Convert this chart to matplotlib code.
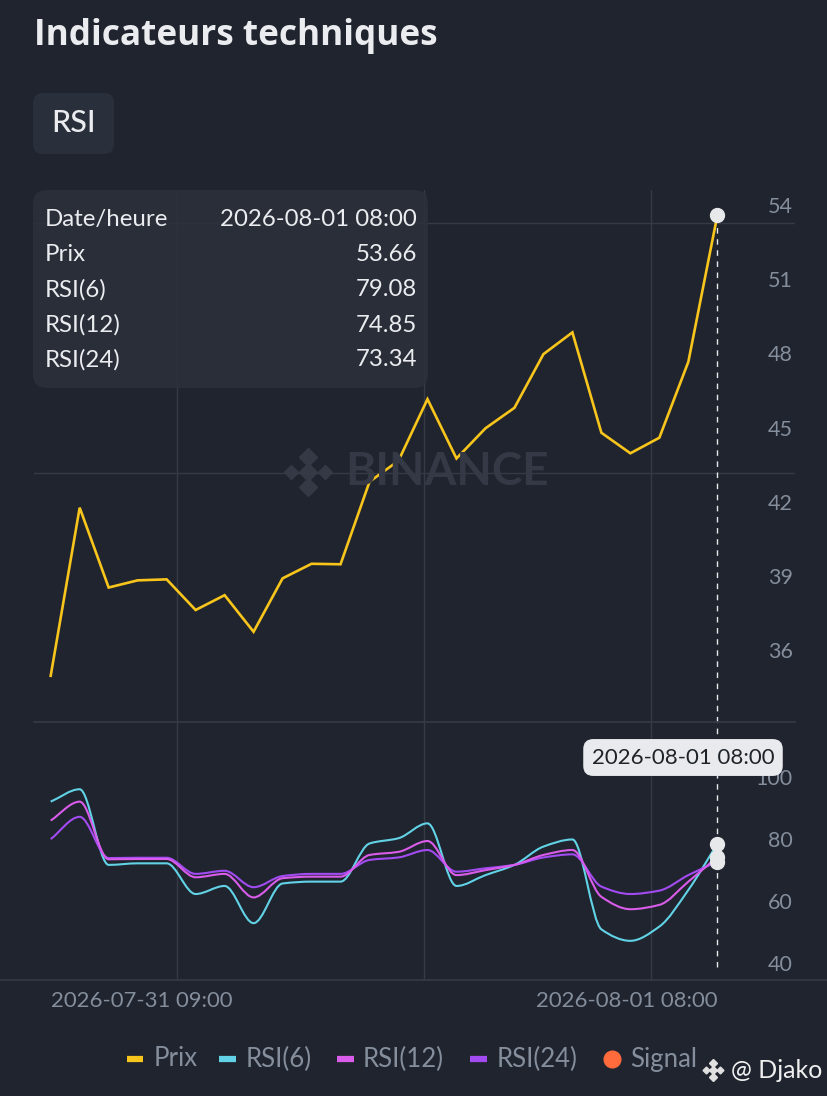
import numpy as np
import matplotlib.pyplot as plt
from matplotlib.path import Path
from matplotlib.patches import PathPatch, FancyBboxPatch
from matplotlib.lines import Line2D

plt.rcParams['font.family'] = ['Lato', 'DejaVu Sans']

# ---- data (hourly, 2026-07-31 09:00 -> 2026-08-01 08:00) ----
hours = np.arange(24)
x_labels = ['2026-07-31 09:00', '2026-08-01 08:00']
price = [35.04, 41.84, 38.61, 38.90, 38.94, 37.70, 38.30, 36.82, 38.98, 39.57,
         39.55, 42.89, 43.74, 46.23, 43.83, 45.05, 45.88, 48.05, 48.93, 44.87,
         44.04, 44.67, 47.74, 53.66]
rsi6 = [92.7, 96.7, 72.3, 72.8, 72.8, 62.9, 65.5, 53.5, 66.3, 66.9, 66.9, 79.2,
        80.9, 85.7, 65.5, 69.0, 72.3, 78.2, 80.5, 51.5, 47.8, 52.4, 64.2, 79.08]
rsi12 = [86.6, 92.7, 74.1, 74.2, 74.2, 68.3, 69.4, 61.8, 68.0, 68.5, 68.5, 75.5,
         76.5, 80.0, 69.0, 70.6, 72.3, 75.5, 77.1, 62.0, 58.0, 59.4, 66.9, 74.85]
rsi24 = [80.6, 87.8, 74.5, 74.6, 74.6, 69.4, 70.4, 65.1, 68.7, 69.4, 69.4, 73.9,
         74.7, 77.1, 70.1, 71.2, 72.3, 74.7, 75.7, 65.3, 62.9, 64.0, 69.0, 73.34]
price_ticks = [36, 39, 42, 45, 48, 51, 54]
rsi_ticks = [40, 60, 80, 100]
tip_rows = [('Date/heure', '2026-08-01 08:00'), ('Prix', '53.66'),
            ('RSI(6)', '79.08'), ('RSI(12)', '74.85'), ('RSI(24)', '73.34')]
legend_items = ['Prix', 'RSI(6)', 'RSI(12)', 'RSI(24)', 'Signal']

BG = '#20242e'
GRID = '#353a46'
TXT = '#eaecef'
AXT = '#848e9c'
C_PRICE = '#f8c51c'
C6 = '#62d3e6'
C12 = '#d95cea'
C24 = '#a34bf2'
C_SIG = '#ff6b3d'

W, H = 828, 1096
fig = plt.figure(figsize=(W / 100, H / 100), dpi=100)
fig.patch.set_facecolor(BG)


def fx(px):
    return px / W


def fy(py):
    return 1 - py / H


def rbox(x0, y0, x1, y1, r, fc, alpha=1.0, z=1):
    p = FancyBboxPatch((x0 / 100, (H - y1) / 100), (x1 - x0) / 100, (y1 - y0) / 100,
                       boxstyle=f'round,pad=0,rounding_size={r / 100}',
                       transform=fig.dpi_scale_trans, fc=fc, ec='none', alpha=alpha, zorder=z)
    fig.add_artist(p)


def smooth_path(x, y):
    # monotone cubic curve through the points, drawn as bezier segments
    x = np.asarray(x, float)
    y = np.asarray(y, float)
    h = np.diff(x)
    d = np.diff(y) / h
    m = np.zeros_like(y)
    m[0], m[-1] = d[0], d[-1]
    for i in range(1, len(y) - 1):
        if d[i - 1] * d[i] > 0:
            m[i] = 2 / (1 / d[i - 1] + 1 / d[i])
    verts = [(x[0], y[0])]
    codes = [Path.MOVETO]
    for i in range(len(x) - 1):
        verts += [(x[i] + h[i] / 3, y[i] + m[i] * h[i] / 3),
                  (x[i + 1] - h[i] / 3, y[i + 1] - m[i + 1] * h[i] / 3),
                  (x[i + 1], y[i + 1])]
        codes += [Path.CURVE4] * 3
    return Path(verts, codes)


left, right = 34, 795
ax_p = fig.add_axes([fx(left), fy(722), (right - left) / W, (722 - 190) / H])
ax_r = fig.add_axes([fx(left), fy(980), (right - left) / W, (980 - 722) / H])
for ax in (ax_p, ax_r):
    ax.set_facecolor('none')
    ax.axis('off')
    ax.set_xlim(-0.576, 25.68)
ax_p.set_ylim(33.17, 54.69)
ax_r.set_ylim(35.16, 118.4)

# grid
grid_x = [4.36, 12.88, 20.71]
for gx in grid_x:
    ax_p.axvline(gx, color=GRID, lw=1, zorder=0)
    ax_r.axvline(gx, color=GRID, lw=1, zorder=0)
for gy in [43.24, 53.35]:
    ax_p.axhline(gy, color=GRID, lw=1, zorder=0)
fig.add_artist(Line2D([fx(left), fx(right)], [fy(722)] * 2, color=GRID, lw=1.2))
fig.add_artist(Line2D([0, 1], [fy(980)] * 2, color=GRID, lw=1.2))

# watermark
fig.text(fx(345), fy(472), 'BINANCE', color='#343945', fontsize=33, fontweight='bold',
         va='center', ha='left', zorder=0)
for dx, dy, s in [(0, 0, 9), (-17, 0, 7), (17, 0, 7), (0, -15, 9), (0, 15, 9)]:
    fig.add_artist(Line2D([fx(308 + dx)], [fy(472 + dy)], marker='D', ms=s,
                          color='#343945', zorder=0))

# price line
ax_p.plot(hours, price, color=C_PRICE, lw=1.9, zorder=3, solid_joinstyle='miter')

# rsi lines
for vals, c in [(rsi6, C6), (rsi24, C24), (rsi12, C12)]:
    ax_r.add_patch(PathPatch(smooth_path(hours, vals), fill=False, ec=c, lw=1.5, zorder=3))

# tick labels
for t in price_ticks:
    ax_p.text(0.997, t, str(t), transform=ax_p.get_yaxis_transform(), ha='right',
              va='center', color=AXT, fontsize=15.5)
for t in rsi_ticks:
    ax_r.text(0.997, t, str(t), transform=ax_r.get_yaxis_transform(), ha='right',
              va='center', color=AXT, fontsize=15.5)
ax_r.text(hours[0], -0.081, x_labels[0], transform=ax_r.get_xaxis_transform(),
          ha='left', va='center', color=AXT, fontsize=15.9)
ax_r.text(hours[-1], -0.081, x_labels[1], transform=ax_r.get_xaxis_transform(),
          ha='right', va='center', color=AXT, fontsize=15.9)

# crosshair
ax_p.plot([hours[-1]] * 2, [33.17, price[-1]], color='#e6e8ea', lw=1, ls=(0, (4, 4)), zorder=4)
ax_r.plot([hours[-1]] * 2, [39.4, 118.4], color='#e6e8ea', lw=1, ls=(0, (4, 4)), zorder=4)
ax_p.plot(hours[-1], price[-1], 'o', color='#e6e8ea', ms=10, zorder=6, clip_on=False)
for v in (rsi6[-1], rsi12[-1], rsi24[-1]):
    ax_r.plot(hours[-1], v, 'o', color='#e6e8ea', ms=10, zorder=6, clip_on=False)
fig.text(fx(683), fy(757.5), '2026-08-01 08:00', ha='center', va='center', color='#1e2329',
         fontsize=16, zorder=10,
         bbox=dict(boxstyle='round,pad=0.38,rounding_size=0.45', fc='#e9eaed', ec='none'))

# tooltip
rbox(33, 190, 428, 388, 14, '#2b303b', alpha=0.88, z=8)
for (lab, val), yy in zip(tip_rows, [225.7, 260.7, 296.5, 331.5, 366.5]):
    fig.text(fx(45), fy(yy), lab, color=TXT, fontsize=17.3, va='baseline', ha='left', zorder=9)
    fig.text(fx(417), fy(yy), val, color=TXT, fontsize=17.3, va='baseline', ha='right', zorder=9)

# header
fig.text(fx(34), fy(45), 'Indicateurs techniques', color=TXT, fontsize=25.3,
         fontweight='bold', va='baseline', ha='left', family=['Open Sans', 'DejaVu Sans'])
rbox(33, 93, 114, 154, 10, '#2a303b')
fig.text(fx(74), fy(123), 'RSI', color=TXT, fontsize=22, fontweight='medium',
         va='center', ha='center')

# legend
ly = fy(1059)
for (x0, x1, tx), c, lab in zip([(127, 143, 154), (219, 236, 246), (337, 354, 363), (470, 487, 497)],
                                 [C_PRICE, C6, C12, C24], legend_items[:4]):
    fig.add_artist(Line2D([fx(x0), fx(x1)], [ly, ly], color=c, lw=4.5, solid_capstyle='butt'))
    fig.text(fx(tx), ly, lab, color=AXT, fontsize=18.5, va='center', ha='left')
fig.add_artist(Line2D([fx(612)], [ly], marker='o', ms=13, color=C_SIG, mec='none'))
fig.text(fx(630), ly, legend_items[4], color=AXT, fontsize=18.5, va='center', ha='left')

# signature
fig.text(fx(731), fy(1070), '@ Djako', color='#f0f0f0', fontsize=18, va='center', ha='left')
for dx, dy, s in [(0, 0, 4), (-7, 0, 3.5), (7, 0, 3.5), (0, -7, 4), (0, 7, 4)]:
    fig.add_artist(Line2D([fx(713 + dx)], [fy(1070 + dy)], marker='D', ms=s, color='#e0e0e0'))

fig.savefig('out.png', dpi=100, facecolor=BG)
